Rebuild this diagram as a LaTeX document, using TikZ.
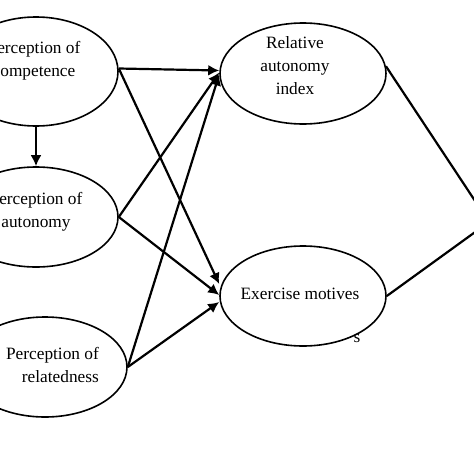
\documentclass[tikz,border=0pt]{standalone}
\usepackage{fontspec}
\setmainfont{Liberation Serif}
\usetikzlibrary{shapes.geometric,arrows.meta,calc}
\begin{document}
\begin{tikzpicture}[x=1pt,y=-1pt,
  oval/.style={draw,ellipse,line width=1.6pt,inner sep=0pt},
  lbl/.style={font=\fontsize{17.3}{23}\selectfont,align=center,inner sep=0pt},
  link/.style={line width=2.2pt,-{Latex[length=11pt,width=11pt]}},
  plain/.style={line width=2.2pt}]
\useasboundingbox (0,0) rectangle (474,474);
\clip (0,0) rectangle (474,474);
% ellipses
\node[oval,minimum width=164pt,minimum height=109pt] (comp) at (36,71.5) {};
\node[oval,minimum width=164pt,minimum height=100pt] (auto) at (36,217) {};
\node[oval,minimum width=164pt,minimum height=100pt] (rel) at (45,367) {};
\node[oval,minimum width=166pt,minimum height=101pt] (rai) at (303,73.5) {};
\node[oval,minimum width=166pt,minimum height=100pt] (ex) at (303,296) {};
\coordinate (out) at (489,222);
% texts
\node[lbl] (compt) at (34,60.5) {Perception of\\competence};
\node[lbl] (autot) at (36,211.5) {Perception of\\autonomy};
\node[lbl,align=right,anchor=east] (relt) at (99,364.5) {Perception of\\relatedness};
\node[lbl] (rait) at (295,65.6) {Relative\\autonomy\\index};
\node[lbl] (ext) at (300,294) {Exercise motives};
\node[lbl] (s) at (357,339) {s};
% connectors
\draw[link] (comp.south) -- (auto.north);
\draw[link] ($(comp.east)+(0,-3)$) -- ($(rai.west)+(0,-3)$);
\draw[link] ($(comp.east)+(0,-3)$) -- ($(ex.west)+(0,-12)$);
\draw[link] (auto.east) -- ($(rai.west)+(0,-1)$);
\draw[link] (auto.east) -- ($(ex.west)+(0,-1)$);
\draw[link] (rel.east) -- ($(rai.west)+(0,1)$);
\draw[link] (rel.east) -- ($(ex.west)+(0,6)$);
\draw[plain] (rai.5) -- (out);
\draw[plain] (ex.east) -- (out);
\end{tikzpicture}
\end{document}
